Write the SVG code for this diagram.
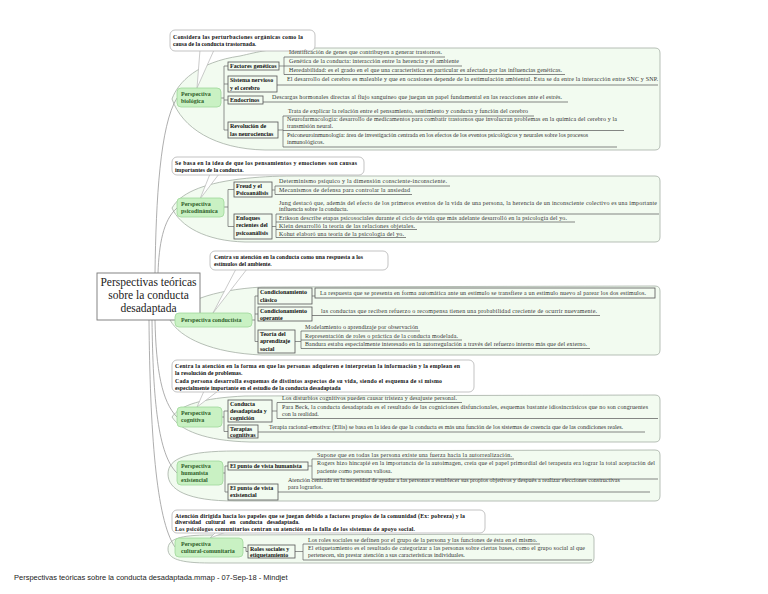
<svg xmlns="http://www.w3.org/2000/svg" width="768" height="594" viewBox="0 0 768 594">
<style>
text{font-family:"Liberation Serif","Times New Roman",serif}
.lf{font-size:6px;fill:#333}
.sb{font-size:6px;font-weight:bold;fill:#111}
.co{font-size:5.8px;font-weight:bold;fill:#111}
.pt{font-size:6px;font-weight:bold;fill:#2f5e2a}
.rg{fill:#f2fbf0;stroke:#a4aea4;stroke-width:0.8}
.pl{fill:#c9f1c3;stroke:#9fd89a;stroke-width:0.8}
.bx{fill:none;stroke:#555;stroke-width:0.8}
.cb{fill:#fff;stroke:#b4b4b4;stroke-width:0.8}
.ln{fill:none;stroke:#666;stroke-width:0.7}
.ul{fill:none;stroke:#555;stroke-width:0.7}
.cn{fill:none;stroke:#999;stroke-width:0.8}
.ptr{fill:#fff;stroke:#b4b4b4;stroke-width:0.7}
.ct{font-size:11.5px;fill:#222;text-anchor:middle}
.ft{font-family:"Liberation Sans",Arial,sans-serif;font-size:7.5px;fill:#222}
</style>
<rect width="768" height="594" fill="#fff"/>

<g id="boundaries">
<path class="rg" d="M172 99 C178 82,198 62,240 56 C258 52,272 48,300 48 L655 48 Q660 48 660 53 L660 145 Q660 150 655 150 L265 150 C215 149,182 128,172 99 Z"/>
<path class="rg" d="M172 208 C180 194,200 184,240 179 C258 177,272 176,295 176 L655 176 Q660 176 660 181 L660 237 Q660 242 655 242 L245 242 C205 241,180 226,172 208 Z"/>
<path class="rg" d="M170 320 C180 302,212 290,262 287 L655 286 Q660 286 660 291 L660 350 Q660 355 655 355 L262 355 C212 353,180 338,170 320 Z"/>
<path class="rg" d="M172 417 C180 405,202 398,245 396 L655 395 Q660 395 660 400 L660 437 Q660 442 655 442 L250 442 C205 441,180 430,172 417 Z"/>
<path class="rg" d="M168 474 C168 458,188 451,235 451 L655 450 Q660 450 660 455 L660 496 Q660 501 655 501 L235 501 C188 501,168 490,168 474 Z"/>
<path class="rg" d="M168 549 C168 539,180 535,210 535 L589 534 Q594 534 594 539 L594 558 Q594 563 589 563 L210 563 C180 563,168 559,168 549 Z"/>
</g>

<g id="connectors">
<path class="cn" d="M155 273 C156 200,160 125,177 98"/>
<path class="cn" d="M158 273 C159 245,163 220,177 208"/>
<path class="cn" d="M155 320 C156 370,162 402,177 417"/>
<path class="cn" d="M152 320 C153 400,158 455,177 473"/>
<path class="cn" d="M149 320 C150 430,156 520,175 547"/>
<path class="ln" d="M221 98 H224 M224 66 V130 M224 66 H228 M224 84 H228 M224 100 H228 M224 130 H228 M279 66 H284 M284 57 V74.5 M278 130 H283 M283 116 V147"/>
<path class="ln" d="M224 207 H228 M228 189.5 V226.5 M228 189.5 H234 M228 226.5 H234 M272 190 H275 M275 186 V194.5 M272 226.5 H276 M276 214 V237.5"/>
<path class="ln" d="M252 320 H255 M255 296 V341.5 M255 296 H258 M255 314 H258 M255 341.5 H258 M312 296 H315 M295 341.5 H301 M301 331 V348.5"/>
<path class="ln" d="M222 417 H224 M224 411 V431.5 M224 411 H228 M224 431.5 H228 M272 411 H277 M277 402.5 V418.5"/>
<path class="ln" d="M223 473 H225 M225 466 V492 M225 466 H228 M225 492 H228 M308 466 H312 M312 459 V479"/>
<path class="ln" d="M243 547.5 H246 V551.5 H248 M295 551.5 H303 M303 544 V560"/>
</g>

<g id="central">
<rect x="97" y="273" width="103" height="47" fill="#fff" stroke="#777" stroke-width="0.9"/>
<text class="ct" x="148.5" y="285.5">Perspectivas teóricas</text>
<text class="ct" x="148.5" y="298.5">sobre la conducta</text>
<text class="ct" x="148.5" y="311.5">desadaptada</text>
</g>

<!-- Biological -->
<g id="callout-bio">
<path class="ptr" d="M200 50 L197 88 L214 50 Z"/>
<rect class="cb" x="170" y="30" width="145" height="21" rx="5"/>
<text class="co" x="173" y="38.5" textLength="130">Considera las perturbaciones orgánicas como la</text>
<text class="co" x="173" y="45.5">causa de la conducta trastornada.</text>
</g>
<g id="pill-bio">
<rect class="pl" x="177" y="88" width="44" height="19" rx="4"/>
<text class="pt" x="181" y="96">Perspectiva</text>
<text class="pt" x="181" y="103">biológica</text>
</g>
<g id="bio-geneticos"><rect class="bx" x="228" y="62" width="51" height="8"/><text class="sb" x="230" y="68.3">Factores genéticos</text></g>
<g id="bio-sistema"><rect class="bx" x="228" y="76" width="49" height="16"/><text class="sb" x="230" y="82">Sistema nervioso</text><text class="sb" x="230" y="89.5">y el cerebro</text></g>
<g id="bio-endocrinos"><rect class="bx" x="228" y="96" width="35" height="8"/><text class="sb" x="230" y="102">Endocrinos</text></g>
<g id="bio-revolucion"><rect class="bx" x="228" y="122" width="50" height="16"/><text class="sb" x="230" y="128">Revolución de</text><text class="sb" x="230" y="135.5">las neurociencias</text></g>
<g id="bio-leaves">
<text class="lf" x="289" y="53.5" textLength="153">Identificación de genes que contribuyen a generar trastornos.</text>
<path class="ul" d="M284 57 H445"/>
<text class="lf" x="289" y="63" textLength="170">Genética de la conducta: interacción entre la herencia y el ambiente</text>
<path class="ul" d="M284 66 H462"/>
<text class="lf" x="289" y="71.5" textLength="273">Heredabilidad: es el grado en el que una característica en particular es afectada por las influencias genéticas.</text>
<path class="ul" d="M284 74.5 H565"/>
<text class="lf" x="287" y="80.5" textLength="371">El desarrollo del cerebro es maleable y que en ocasiones depende de la estimulación ambiental. Esta se da entre la interacción entre SNC y SNP.</text>
<path class="ul" d="M277 85 H658"/>
<text class="lf" x="272" y="98.5" textLength="290">Descargas hormonales directas al flujo sanguíneo que juegan un papel fundamental en las reacciones ante el estrés.</text>
<path class="ul" d="M263 102 H568"/>
<text class="lf" x="288" y="113" textLength="240">Trata de explicar la relación entre el pensamiento, sentimiento y conducta y función del cerebro</text>
<path class="ul" d="M283 116 H534"/>
<text class="lf" x="287" y="121" textLength="330">Neurofarmacología: desarrollo de medicamentos para combatir trastornos que involucran problemas en la química del cerebro y la</text>
<text class="lf" x="287" y="127.5">transmisión neural.</text>
<path class="ul" d="M283 130.5 H624"/>
<text class="lf" x="287" y="136.5" textLength="301">Psiconeuroinmunología: área de investigación centrada en los efectos de los eventos psicológicos y neurales sobre los procesos</text>
<text class="lf" x="287" y="143.5">inmunológicos.</text>
<path class="ul" d="M283 147 H617"/>
</g>

<!-- Psychodynamic -->
<g id="callout-psy">
<path class="ptr" d="M210 174 L200 199 L219 174 Z"/>
<rect class="cb" x="172" y="157" width="192" height="18" rx="5"/>
<text class="co" x="175" y="165" textLength="182">Se basa en la idea de que los pensamientos y emociones son causas</text>
<text class="co" x="175" y="172">importantes de la conducta.</text>
</g>
<g id="pill-psy">
<rect class="pl" x="177" y="198" width="47" height="19" rx="4"/>
<text class="pt" x="181" y="206">Perspectiva</text>
<text class="pt" x="181" y="213">psicodinámica</text>
</g>
<g id="psy-freud"><rect class="bx" x="234" y="182" width="38" height="15"/><text class="sb" x="236" y="188">Freud y el</text><text class="sb" x="236" y="195">Psicoanálisis</text></g>
<g id="psy-enfoques"><rect class="bx" x="234" y="214" width="38" height="25"/><text class="sb" x="236" y="219.5">Enfoques</text><text class="sb" x="236" y="227">recientes del</text><text class="sb" x="236" y="234.5">psicoanálisis</text></g>
<g id="psy-leaves">
<text class="lf" x="279" y="183" textLength="168">Determinismo psíquico y la dimensión consciente-inconsciente.</text>
<path class="ul" d="M275 186 H450"/>
<text class="lf" x="279" y="192" textLength="131">Mecanismos de defensa para controlar la ansiedad</text>
<path class="ul" d="M275 194.5 H412"/>
<text class="lf" x="279" y="205" textLength="378">Jung destacó que, además del efecto de los primeros eventos de la vida de una persona, la herencia de un inconsciente colectivo es una importante</text>
<text class="lf" x="279" y="211">influencia sobre la conducta.</text>
<path class="ul" d="M276 214 H659"/>
<text class="lf" x="279" y="219.5" textLength="288">Erikson describe etapas psicosociales durante el ciclo de vida que más adelante desarrolló en la psicología del yo.</text>
<path class="ul" d="M276 222 H575"/>
<text class="lf" x="279" y="227.5" textLength="136">Klein desarrolló la teoría de las relaciones objetales.</text>
<path class="ul" d="M276 229.5 H417"/>
<text class="lf" x="279" y="235.5" textLength="125">Kohut elaboró una teoría de la psicología del yo.</text>
<path class="ul" d="M276 237.5 H406"/>
</g>

<!-- Conductista -->
<g id="callout-con">
<path class="ptr" d="M236 269 L213 313 L247 269 Z"/>
<rect class="cb" x="210" y="251" width="178" height="19" rx="5"/>
<text class="co" x="214" y="258.5" textLength="149">Centra su atención en la conducta como una respuesta a los</text>
<text class="co" x="214" y="265.5">estímulos del ambiente.</text>
</g>
<g id="pill-con">
<rect class="pl" x="175" y="313" width="77" height="14" rx="4"/>
<text class="pt" x="181" y="322">Perspectiva conductista</text>
</g>
<g id="con-clasico"><rect class="bx" x="258" y="288" width="54" height="16"/><text class="sb" x="260" y="294">Condicionamiento</text><text class="sb" x="260" y="301.5">clásico</text></g>
<g id="con-operante"><rect class="bx" x="258" y="307" width="54" height="14"/><text class="sb" x="260" y="312.5">Condicionamiento</text><text class="sb" x="260" y="319.5">operante</text></g>
<g id="con-social"><rect class="bx" x="258" y="330" width="37" height="23"/><text class="sb" x="260" y="335.5">Teoría del</text><text class="sb" x="260" y="343">aprendizaje</text><text class="sb" x="260" y="350.5">social</text></g>
<g id="con-leaves">
<rect class="bx" x="315" y="288" width="340" height="10"/>
<text class="lf" x="320" y="295" textLength="326">La respuesta que se presenta en forma automática ante un estímulo se transfiere a un estímulo nuevo al parear los dos estímulos.</text>
<text class="lf" x="321" y="313" textLength="276">las conductas que reciben refuerzo o recompensa tienen una probabilidad creciente de ocurrir nuevamente.</text>
<path class="ul" d="M312 315.5 H600"/>
<text class="lf" x="305" y="328.5" textLength="113">Modelamiento o aprendizaje por observación</text>
<path class="ul" d="M301 331 H420"/>
<text class="lf" x="305" y="337.5" textLength="153">Representación de roles o práctica de la conducta modelada.</text>
<path class="ul" d="M301 340 H462"/>
<text class="lf" x="305" y="346" textLength="282">Bandura estaba especialmente interesado en la autorregulación a través del refuerzo interno más que del externo.</text>
<path class="ul" d="M301 348.5 H590"/>
</g>

<!-- Cognitiva -->
<g id="callout-cog">
<path class="ptr" d="M204 391 L197 407 L218 391 Z"/>
<rect class="cb" x="172" y="360" width="302" height="32" rx="5"/>
<text class="co" x="175" y="368" textLength="285">Centra la atención en la forma en que las personas adquieren e interpretan la información y la emplean en</text>
<text class="co" x="175" y="375">la resolución de problemas.</text>
<text class="co" x="175" y="382.5" textLength="267">Cada persona desarrolla esquemas de distintos aspectos de su vida, siendo el esquema de si mismo</text>
<text class="co" x="175" y="389.5">especialmente importante en el estudio de la conducta desadaptada</text>
</g>
<g id="pill-cog">
<rect class="pl" x="177" y="407" width="45" height="20" rx="4"/>
<text class="pt" x="181" y="414.5">Perspectiva</text>
<text class="pt" x="181" y="422">cognitiva</text>
</g>
<g id="cog-conducta"><rect class="bx" x="228" y="400" width="44" height="22"/><text class="sb" x="230" y="405.5">Conducta</text><text class="sb" x="230" y="413">desadaptada y</text><text class="sb" x="230" y="420">cognición</text></g>
<g id="cog-terapias"><rect class="bx" x="228" y="425" width="30" height="13"/><text class="sb" x="230" y="430.5">Terapias</text><text class="sb" x="230" y="437">cognitivas</text></g>
<g id="cog-leaves">
<text class="lf" x="282" y="400" textLength="175">Los disturbios cognitivos pueden causar tristeza y desajuste personal.</text>
<path class="ul" d="M277 402.5 H462"/>
<text class="lf" x="282" y="408.5" textLength="366">Para Beck, la conducta desadaptada es el resultado de las cogniciones disfuncionales, esquemas bastante idiosincrásicos que no son congruentes</text>
<text class="lf" x="282" y="415.5">con la realidad.</text>
<path class="ul" d="M277 418.5 H658"/>
<text class="lf" x="269" y="429">Terapia racional-emotiva: (Ellis) se basa en la idea de que la conducta es más una función de los sistemas de creencia que de las condiciones reales.</text>
<path class="ul" d="M258 432 H645"/>
</g>

<!-- Humanista -->
<g id="pill-hum">
<rect class="pl" x="177" y="461" width="46" height="24" rx="4"/>
<text class="pt" x="181" y="467.5">Perspectiva</text>
<text class="pt" x="181" y="474.5">humanista</text>
<text class="pt" x="181" y="481.5">existencial</text>
</g>
<g id="hum-humanista"><rect class="bx" x="228" y="462" width="80" height="8"/><text class="sb" x="230" y="468">El punto de vista humanista</text></g>
<g id="hum-existencial"><rect class="bx" x="228" y="484" width="50" height="16"/><text class="sb" x="230" y="489.5">El punto de vista</text><text class="sb" x="230" y="497">existencial</text></g>
<g id="hum-leaves">
<text class="lf" x="317" y="456.5" textLength="195">Supone que en todas las persona existe una fuerza hacia la autorrealización.</text>
<path class="ul" d="M312 459 H514"/>
<text class="lf" x="317" y="465" textLength="338">Rogers hizo hincapié en la importancia de la autoimagen, creía que el papel primordial del terapeuta era lograr la total aceptación del</text>
<text class="lf" x="317" y="472.5">paciente como persona valiosa.</text>
<path class="ul" d="M312 479 H658"/>
<text class="lf" x="288" y="482">Atención centrada en la necesidad de ayudar a las personas a establecer sus propios objetivos y después a realizar elecciones constructivas</text>
<text class="lf" x="288" y="488.5">para lograrlos.</text>
<path class="ul" d="M278 492 H650"/>
</g>

<!-- Cultural-comunitaria -->
<g id="callout-com">
<path class="ptr" d="M216 532 L210 538 L226 532 Z"/>
<rect class="cb" x="172" y="510" width="313" height="23" rx="5"/>
<text class="co" x="175" y="517.5" textLength="290">Atención dirigida hacia los papeles que se juegan debido a factores propios de la comunidad (Ex: pobreza) y la</text>
<text class="co" x="175" y="524" word-spacing="3">diversidad cultural en conducta desadaptada.</text>
<text class="co" x="175" y="530.5" textLength="240">Los psicólogos comunitarios centran su atención en la falla de los sistemas de apoyo social.</text>
</g>
<g id="pill-com">
<rect class="pl" x="175" y="538" width="68" height="19" rx="4"/>
<text class="pt" x="181" y="545.5">Perspectiva</text>
<text class="pt" x="181" y="552.5">cultural-comunitaria</text>
</g>
<g id="com-roles"><rect class="bx" x="248" y="545" width="47" height="13"/><text class="sb" x="250" y="550.5">Roles sociales y</text><text class="sb" x="250" y="557">etiquetamiento</text></g>
<g id="com-leaves">
<text class="lf" x="308" y="541.5" textLength="229">Los roles sociales se definen por el grupo de la persona y las funciones de ésta en el mismo.</text>
<path class="ul" d="M303 544 H540"/>
<text class="lf" x="308" y="549.5" textLength="277">El etiquetamiento es el resultado de categorizar a las personas sobre ciertas bases, como el grupo social al que</text>
<text class="lf" x="308" y="556.5">pertenecen, sin prestar atención a sus características individuales.</text>
<path class="ul" d="M303 560 H592"/>
</g>

<text class="ft" x="14" y="580">Perspectivas teóricas sobre la conducta desadaptada.mmap - 07-Sep-18 - Mindjet</text>
</svg>
